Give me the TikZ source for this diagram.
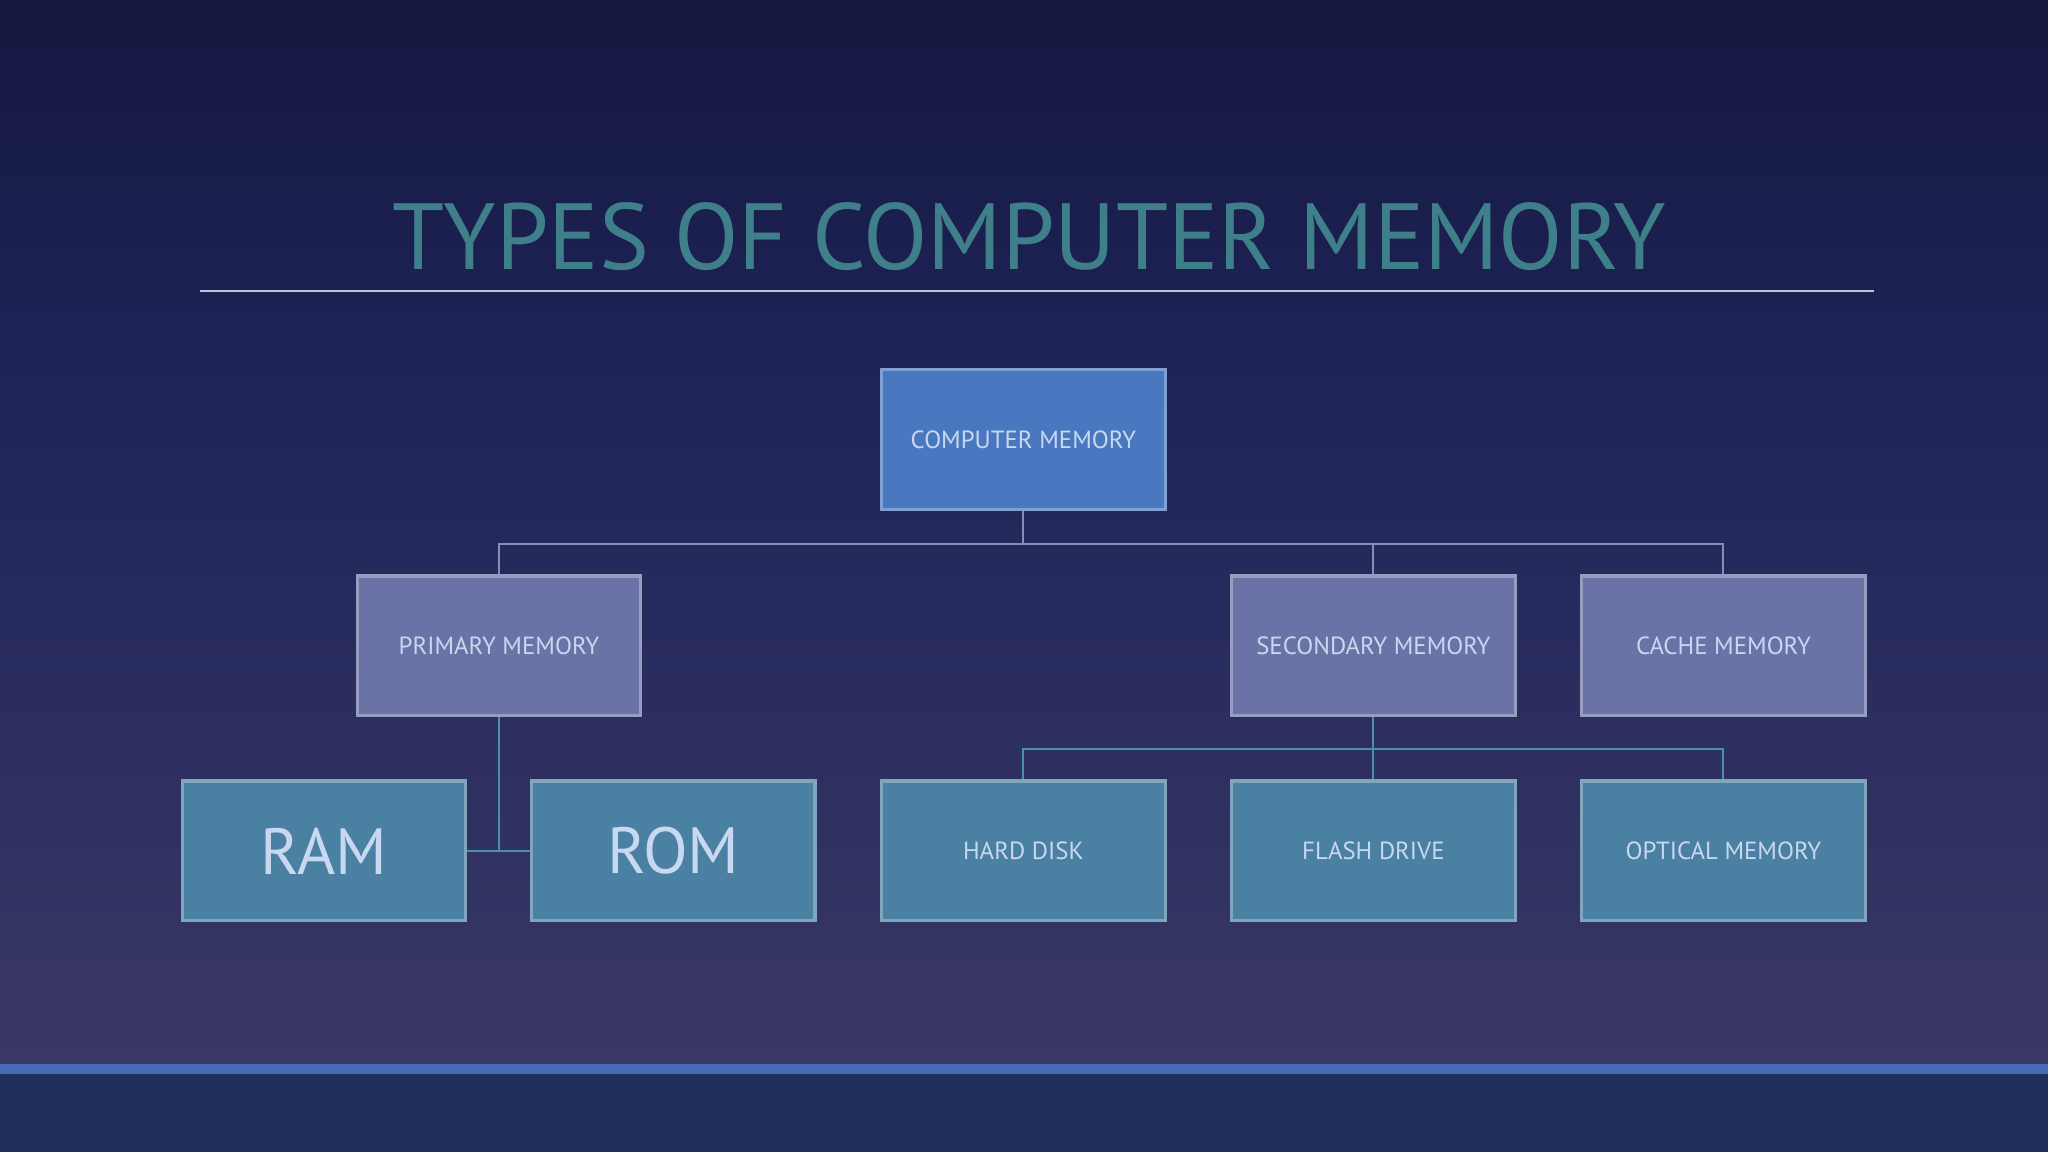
\documentclass[tikz,border=0pt]{standalone}
\usepackage{fontspec}
\setmainfont{PT Sans}
\definecolor{bgt}{HTML}{161840}
\definecolor{bgm}{HTML}{1E2458}
\definecolor{bgb}{HTML}{3A3866}
\definecolor{topc}{HTML}{4A78C0}
\definecolor{midc}{HTML}{6A72A6}
\definecolor{lowc}{HTML}{4A80A2}
\definecolor{txt}{HTML}{C8D8F0}
\definecolor{ttl}{HTML}{3F7F8A}
\definecolor{foot}{HTML}{20305A}
\definecolor{band}{HTML}{4A6AB8}
\definecolor{rule}{HTML}{BEC3D7}
\definecolor{conA}{HTML}{8090B8}
\definecolor{conB}{HTML}{4A90A8}
\begin{document}
\begin{tikzpicture}[x=0.5pt,y=-0.5pt,
  box/.style={draw=#1!70!white,line width=1.2pt,minimum width=108.5pt,minimum height=53.5pt,inner sep=0pt,font=\fontsize{9.5}{11}\selectfont,text=txt},
  top/.style={box=topc,fill=topc},
  mid/.style={box=midc,fill=midc},
  low/.style={box=lowc,fill=lowc},
  con/.style={line width=0.8pt,draw=#1}]
\useasboundingbox (0,0) rectangle (1568,882);
\shade[top color=bgt,bottom color=bgm] (0,0) rectangle (1568,300);
\shade[top color=bgm,bottom color=bgb] (0,300) rectangle (1568,815);
\fill[foot] (0,822) rectangle (1568,882);
\fill[band] (0,815) rectangle (1568,822);
\node[text=ttl,font=\fontsize{36}{40}\selectfont] (title) at (788,181) {TYPES OF COMPUTER MEMORY};
\coordinate (l1) at (153,223); \coordinate (l2) at (1435,223);
\draw[line width=0.6pt,rule] (l1) -- (l2);
\node[top] (cm) at (783.5,336.5) {COMPUTER MEMORY};
\node[mid] (pm) at (382,494.5) {PRIMARY MEMORY};
\node[mid] (sm) at (1051.5,494.5) {SECONDARY MEMORY};
\node[mid] (cc) at (1319.5,494.5) {CACHE MEMORY};
\node[low,font=\fontsize{25}{28}\selectfont] (ram) at (248,651.5) {RAM};
\node[low,font=\fontsize{25}{28}\selectfont] (rom) at (515.5,651.5) {ROM};
\node[low] (hd) at (783.5,651.5) {HARD DISK};
\node[low] (fd) at (1051.5,651.5) {FLASH DRIVE};
\node[low] (om) at (1319.5,651.5) {OPTICAL MEMORY};
\draw[con=conA] (cm.south) -- ++(0,25) -| (pm.north);
\draw[con=conA] (cm.south) -- ++(0,25) -| (sm.north);
\draw[con=conA] (cm.south) -- ++(0,25) -| (cc.north);
\draw[con=conB] (sm.south) -- ++(0,24) -| (hd.north);
\draw[con=conB] (sm.south) -- (fd.north);
\draw[con=conB] (sm.south) -- ++(0,24) -| (om.north);
\draw[con=conB] (pm.south) |- (ram.east);
\draw[con=conB] (pm.south) |- (rom.west);
\end{tikzpicture}
\end{document}
